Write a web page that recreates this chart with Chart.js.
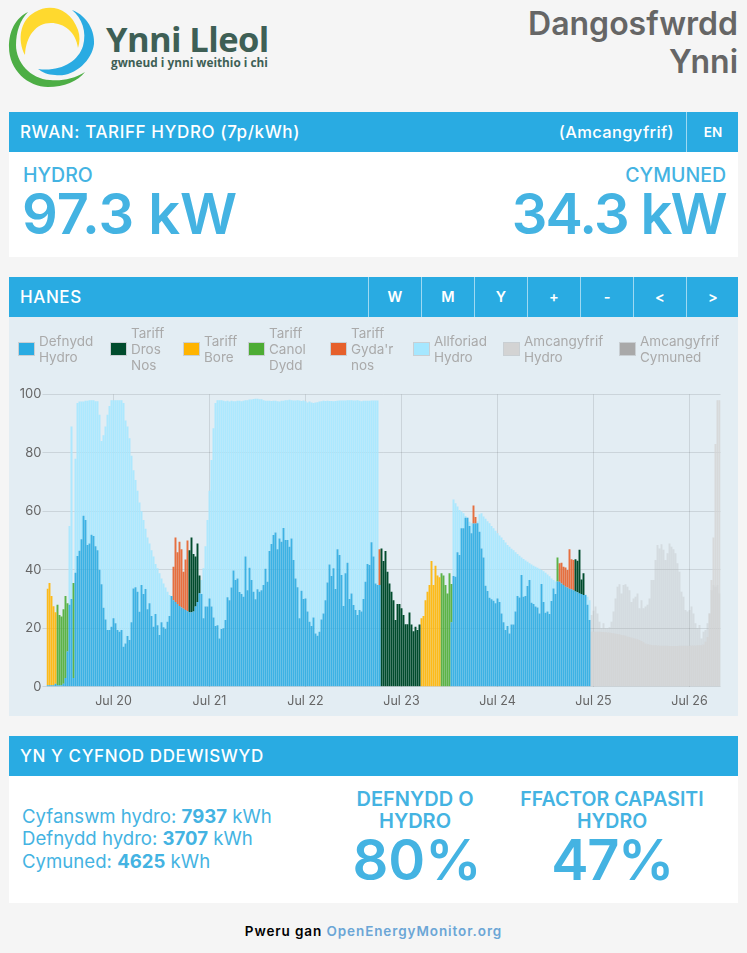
<!DOCTYPE html>
<html lang="cy"><head><meta charset="utf-8">
<script src="https://cdn.jsdelivr.net/npm/chart.js@4"></script>
<style>
html,body{margin:0;padding:0;background:#f5f5f5;width:747px;height:953px;overflow:hidden;font-family:Inter,"Open Sans",sans-serif}
.a{position:absolute;white-space:nowrap;line-height:1}
.bar{position:absolute;left:9px;width:729px;height:40px;background:#29abe2}
.panel{position:absolute;left:9px;width:729px;background:#fff}
.hd{color:#fff;font-weight:500;font-size:17px;letter-spacing:.6px}
.sep{position:absolute;top:0;width:1px;height:40px;background:rgba(255,255,255,.55)}
.btn{position:absolute;top:0;height:40px;width:52px;color:#fff;font-weight:600;font-size:14.5px;line-height:40px;text-align:center}
.blue{color:#44b3e2}
.li{position:absolute;top:0;height:64px;display:flex;align-items:center;color:#aaa;font-size:13.5px;line-height:16px}
.li i{display:block;width:17px;height:14px;box-sizing:border-box;border:1px solid #c9cfd3;margin-right:4px;flex:none}
</style></head><body>
<svg class="a" style="left:0;top:0" width="100" height="95" viewBox="0 0 100 95">
<path fill="#ffd92e" d="M25 55C17 40 20 20 35 12C50 3 70 8 78 30C80 36 80 42 78 48C76 32 64 23 51 23C36 23 26 36 25 55Z"/>
<path fill="#2aabe2" d="M72 10C88 16 95 32 94 44C92 62 72 78 55 75C48 75 42 72 38 69C60 72 78 62 83 46C87 32 82 18 72 10Z"/>
<path fill="#4dae45" d="M28 12C12 20 9 36 9 47C9 70 28 87 48 87C64 87 78 81 85 72C74 79 62 81 50 80C30 79 16 62 16 45C16 32 20 20 28 12Z"/>
</svg>
<div class="a" style="left:106px;top:15px;font:700 34.5px 'Open Sans',sans-serif;color:#3e5f55;letter-spacing:-.6px">Ynni Lleol</div>
<div class="a" style="left:111px;top:54px;font:700 11.8px 'Open Sans',sans-serif;color:#3e5f55">gwneud i ynni weithio i chi</div>
<div class="a" style="right:9px;top:5px;font-weight:600;font-size:32px;color:#666;text-align:right;line-height:38px">Dangosfwrdd<br>Ynni</div>

<div class="bar" style="top:112px">
 <div class="a hd" style="left:11px;top:12px">RWAN: TARIFF HYDRO (7p/kWh)</div>
 <div class="a hd" style="right:64px;top:12px;font-size:16.5px;letter-spacing:.35px">(Amcangyfrif)</div>
 <div class="sep" style="left:677px"></div>
 <div class="btn" style="left:678px;font-size:13.5px">EN</div>
</div>
<div class="panel" style="top:152px;height:105px"></div>
<div class="a blue" style="left:23px;top:166px;font-weight:500;font-size:19.5px">HYDRO</div>
<div class="a blue" style="left:22px;top:186px;font-weight:600;font-size:56px">97.3 kW</div>
<div class="a blue" style="right:21px;top:166px;font-weight:500;font-size:19.5px">CYMUNED</div>
<div class="a blue" style="right:21px;top:186px;font-weight:600;font-size:56px;letter-spacing:-1.7px">34.3 kW</div>

<div class="bar" style="top:277px">
 <div class="a hd" style="left:11px;top:12px">HANES</div>
 <div class="sep" style="left:359px"></div><div class="sep" style="left:412px"></div><div class="sep" style="left:465px"></div><div class="sep" style="left:518px"></div><div class="sep" style="left:571px"></div><div class="sep" style="left:624px"></div><div class="sep" style="left:677px"></div>
 <div class="btn" style="left:360px">W</div><div class="btn" style="left:413px">M</div><div class="btn" style="left:466px">Y</div><div class="btn" style="left:519px">+</div><div class="btn" style="left:572px">-</div><div class="btn" style="left:625px">&lt;</div><div class="btn" style="left:678px">&gt;</div>
</div>
<div id="panel" style="position:absolute;left:9px;top:317px;width:729px;height:399px;background:#e3edf3"><canvas id="c" width="729" height="399" style="display:block;width:729px;height:399px"></canvas><div id="lg" style="position:absolute;left:0;top:0;width:729px;height:64px;margin-top:0"></div></div>

<div class="bar" style="top:736px"><div class="a hd" style="left:11px;top:12px">YN Y CYFNOD DDEWISWYD</div></div>
<div class="panel" style="top:776px;height:127px"></div>
<div class="a blue" style="left:22px;top:807px;font-size:18.6px">Cyfanswm hydro: <b>7937</b> kWh</div>
<div class="a blue" style="left:22px;top:829px;font-size:18.6px">Defnydd hydro: <b>3707</b> kWh</div>
<div class="a blue" style="left:22px;top:852px;font-size:18.6px">Cymuned: <b>4625</b> kWh</div>
<div class="a blue" style="left:315px;width:200px;top:788px;text-align:center;font-weight:600;font-size:20px;line-height:22px">DEFNYDD O<br>HYDRO</div>
<div class="a blue" style="left:317px;width:200px;top:832px;text-align:center;font-weight:600;font-size:56px">80%</div>
<div class="a blue" style="left:512px;width:200px;top:788px;text-align:center;font-weight:600;font-size:19.5px;line-height:22px">FFACTOR CAPASITI<br>HYDRO</div>
<div class="a blue" style="left:512px;width:200px;top:832px;text-align:center;font-weight:600;font-size:56px;letter-spacing:-1.5px">47%</div>
<div class="a" style="left:0;width:747px;top:925px;text-align:center;font-weight:600;font-size:13.5px;color:#000;letter-spacing:.9px">Pweru gan <span style="color:#6ba6d6;font-weight:600">OpenEnergyMonitor.org</span></div>

<script>
// half-hourly bars starting Jul 19
const dayTicks = {33:'Jul 20',81:'Jul 21',129:'Jul 22',177:'Jul 23',225:'Jul 24',273:'Jul 25',321:'Jul 26'};
const communityKw = [
33.5,35.5,31,27.5,25.5,28,24.5,24,26.5,31,
28.5,28,30,35.5,39,44.7,46.5,50.4,58.5,57,
48.5,49,52,51.5,48,46.7,40,35,27,23,
19.4,19.4,20.5,23.4,21.7,19.4,18.8,19.4,13.7,14.8,
17.3,16,22,33.6,34,32.5,25.6,34.8,31.7,33.4,
26.5,28.5,24.2,20.5,24.9,21,17.7,22,20.3,19.8,
22.2,24.2,31,41,51,46,49.6,47,39.3,43.5,
50,46.7,51,45.4,44.5,49,38,31.7,23.4,27.4,
27.4,30.2,27.4,23.7,20.8,21,16.5,19.7,20,22.8,
30.6,29.6,33.9,39.7,36.5,37,32.4,31.7,30.8,44.5,
33,40.7,36.5,32.5,29.9,33.3,32.5,33,34.8,40.3,
35.9,46.4,48.8,51.9,52.7,47,50.7,49.6,54.3,50.2,
50.2,47.9,50.7,43.3,37,34,23.4,32.8,30,30.2,
25.7,22.2,20.8,23.7,18.2,17.4,18.8,23,25,29.6,
35.6,41.8,37.9,40.5,33.4,47,45,38.2,27.6,38.8,
42.4,30,31.9,27.9,26.2,24.5,26.2,25.7,30,35.9,
42,41.6,49.4,44.5,35.3,34.8,47,47.3,43,46.4,
39.3,35.3,32.5,29.6,22.8,28.3,28.3,26.8,24.5,21.4,
21.4,25.4,21.3,19,20.5,19.4,21.3,23.4,24.2,29.6,
32.5,34.8,43,34.8,41.4,38,37.4,38.8,38,34.8,
31.9,38.8,35.1,37.9,37.6,46,45,54.2,54.2,57.8,
57.8,55,52.5,62,58,55.9,53,47.3,44.2,34.5,
32.7,30.4,29.9,29.4,28.5,30.2,29,25,22,19.4,
20.8,18.2,21.3,21.3,25.7,31,30.5,38.2,30.8,31,
34.4,36.5,28.7,28.3,27.4,27.1,25,35.1,29,25.3,
25.7,24.9,29.3,33.6,31.7,44.2,42.2,42.4,41,40.8,
39.9,47,43.6,43.3,43.6,43.1,46.8,36.7,38.8,31.4,
28,22.8];
const hydroKw = [
.5,.5,.5,.5,1,.5,.5,.5,1,3,
12,55,89,3,78,97,97.5,97.5,97.5,97.8,
97.8,98,98,98,97.6,97.6,93,84,86,89,
93,96,98,98,98,98,98,98,97,91,
89,85,79,74,70.7,67,63,60,57,54,
51,49,46.7,44.5,42,40.5,38.8,37,35.3,33.9,
32.5,31.4,31,29.6,29,28.3,27.6,27.1,26.7,26.2,
25.8,25.5,25.5,25.7,27.4,29,32,36.5,40.5,48,
57,67,77.5,88.4,97,98,98,98,97.8,97.6,
97.8,97.5,97.8,97.6,97.6,97.8,97.8,97.6,97.8,98,
98,98.2,98.2,98.4,98.5,98.5,98.3,98.3,98,97.8,
97.8,97.8,97.7,97.8,97.8,97.6,97.5,97.8,97.8,98,
98,98.1,98,97.9,97.9,98,97.9,97.7,97.9,97.6,
97.2,97.5,97.2,97,97.2,97.3,97.5,97.6,97.8,97.7,
97.8,97.7,97.7,97.6,97.7,97.8,97.9,97.9,97.9,97.9,
98,98,98,97.9,97.9,98,97.8,97.6,97.8,97.8,
97.8,97.8,97.9,97.9,97.9,97.9,34.8,0,0,0,
0,0,0,0,0,0,0,0,0,0,
0,0,0,0,0,0,0,0,0,0,
0,0,0,0,0,0,0,0,0,0,
0,0,22,64,62.7,61.6,60.4,59.9,59.3,58.4,
57.9,56.4,55.9,55.8,55.8,56.5,59,59.3,58.2,57.4,
56.6,55.9,55,54.2,53.3,52.5,51.7,51,50.2,49.3,
48.5,47.9,47.2,46.7,46,45.4,44.8,44.2,43.7,43.2,
42.7,42.2,41.8,41.4,41,40.7,40.3,39.9,39.5,39,
38.4,37.8,37,36.5,36,36,35.9,35.3,34.8,34.2,
33.9,33.5,33.3,33,32.6,32.3,31.9,31.7,31.4,31.5,
30.8,29.6];
const forecastHydroKw = [
18.8,18.8,18.8,18.8,18.8,18.7,18.7,18.6,
18.5,18.5,18.4,18.3,18.1,18,17.9,17.7,17.6,17.4,
17.2,17,16.8,16.6,16.4,16.2,16,15.6,15.2,14.8,
14.5,14.4,14.3,14.2,14.2,14.1,14.1,14,14,14,
14,13.9,13.9,13.9,13.9,13.9,14,14,14,14,
14,14,14.1,14.1,14.1,14.2,14.2,14.2,14.4,15.4,
17,25,36.5,51,83,98,98];
const forecastCommunityKw = [
24.5,26,27.4,25,22.2,20,21.7,20,
20,20.3,22.2,25.7,30.2,34.2,35,31.9,34.8,35,
34.2,33,29,30.2,30.8,31.9,26.8,29.6,26.8,27.4,
28,30.2,36.5,36.5,43.3,48.5,47.3,48.7,46.8,43.3,
45.6,49,47.9,47,45.6,42.2,39.3,32.5,30.8,26.2,
25.7,26.2,27.4,25,21.7,20,21.1,16.5,18.8,19.4,
21.7,25,33,34.8,34.2,34.8,31.9];
// which bars of communityKw bought power in each tariff: [first,last]
const tariffNightRuns   = [[71,76],[167,186],[264,268]];
const tariffMorningRuns = [[0,4],[187,196]];
const tariffMiddayRuns  = [[5,13],[197,202],[255,255]];
const tariffEveningRuns = [[63,70],[166,166],[213,214],[256,263]];
const yTicks = [0,20,40,60,80,100];

const measured = communityKw.length;
const total = measured + forecastHydroKw.length;
const labels = Array.from({length:total},(_,i)=>dayTicks[i]||'');
const hydroUse = communityKw.map((c,i)=>Math.min(c,hydroKw[i]));
const hydroExport = hydroKw.map((h,i)=>Math.max(0,h-communityKw[i]));
const importFor = runs => communityKw.map((c,i)=>runs.some(r=>i>=r[0]&&i<=r[1])?c-hydroUse[i]:0);
const pad = a => new Array(measured).fill(null).concat(a);
const bar = {barPercentage:.95,categoryPercentage:1,borderWidth:0,grouped:false};
const sets = [
 {label:['Defnydd','Hydro'],data:hydroUse,backgroundColor:'rgba(41,171,226,.9)',stack:'m',swatch:'#29abe2'},
 {label:['Tariff','Dros','Nos'],data:importFor(tariffNightRuns),backgroundColor:'#014c2d',stack:'m',swatch:'#014c2d'},
 {label:['Tariff','Bore'],data:importFor(tariffMorningRuns),backgroundColor:'rgba(255,180,1,.9)',stack:'m',swatch:'#ffb401'},
 {label:['Tariff','Canol','Dydd'],data:importFor(tariffMiddayRuns),backgroundColor:'rgba(77,172,52,.9)',stack:'m',swatch:'#4dac34'},
 {label:['Tariff',"Gyda'r",'nos'],data:importFor(tariffEveningRuns),backgroundColor:'rgba(230,96,43,.9)',stack:'m',swatch:'#e6602b'},
 {label:['Allforiad','Hydro'],data:hydroExport,backgroundColor:'rgba(165,231,255,.9)',stack:'m',swatch:'#a5e7ff'},
 {label:['Amcangyfrif','Hydro'],data:pad(forecastHydroKw),backgroundColor:'rgba(211,211,211,.8)',stack:'f1',swatch:'#d3d3d3'},
 {label:['Amcangyfrif','Cymuned'],data:pad(forecastCommunityKw),backgroundColor:'rgba(169,169,169,.25)',stack:'f2',swatch:'#a9a9a9'}
].map(d=>Object.assign(d,bar));
Chart.defaults.font.family='Inter,"Open Sans",sans-serif';
const chart = new Chart(document.getElementById('c'),{type:'bar',data:{labels,datasets:sets},options:{
 responsive:false,animation:false,
 layout:{padding:{left:0,right:17.5,top:77.3,bottom:0}},
 plugins:{tooltip:{enabled:false},legend:{display:false}},
 scales:{
  x:{stacked:true,offset:true,border:{display:false},grid:{offset:false,color:'rgba(0,0,0,.1)',drawTicks:false},
   afterBuildTicks:s=>{s.ticks=s.ticks.filter(t=>dayTicks[t.value]);},
   afterFit:s=>{s.height=29.3;},
   ticks:{autoSkip:false,maxRotation:0,minRotation:0,color:'#666',font:{size:12.5},padding:7,callback:function(v){return dayTicks[v]||'';}}},
  y:{stacked:true,min:0,max:100,border:{display:false},grid:{color:'rgba(0,0,0,.1)',tickLength:4},
   afterFit:s=>{s.width=37.5;},
   afterBuildTicks:s=>{s.ticks=yTicks.map(v=>({value:v}));},
   ticks:{color:'#666',font:{size:13},padding:1}}
 }}});
// legend as HTML so that every entry centres on the same line, built from the chart's datasets
const legendLefts = [9,101,174,239,321,404,494,610];
chart.data.datasets.forEach((d,i)=>{
  const el=document.createElement('div');el.className='li';el.style.left=legendLefts[i]+'px';el.style.top='0';
  el.innerHTML='<i style="background:'+d.swatch+'"></i><span>'+d.label.join('<br>')+'</span>';
  document.getElementById('lg').appendChild(el);
});
</script>
</body></html>
